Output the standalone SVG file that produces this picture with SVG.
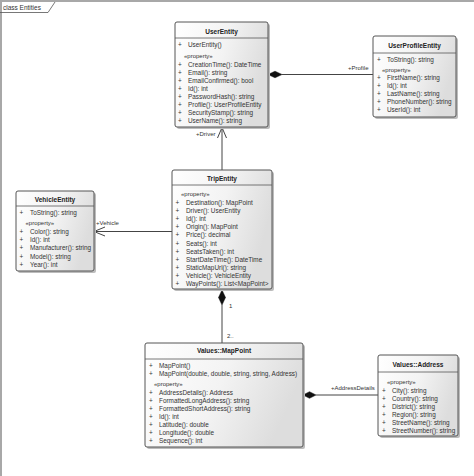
<svg xmlns="http://www.w3.org/2000/svg" width="474" height="476" viewBox="0 0 474 476">
<style>
.bg{fill:#ffffff}
.box{fill:url(#g);stroke:#555555;stroke-width:1}
.sh{fill:#bcbcbc}
.sep{stroke:#555555;stroke-width:0.8}
.t{font-family:"Liberation Sans",Arial,sans-serif;font-size:6.4px;fill:#333333}
.b{font-weight:bold;text-anchor:middle;font-size:6.5px;fill:#222222}
.st{font-size:6px}
.lb{font-family:"Liberation Sans",Arial,sans-serif;font-size:6px;fill:#333333}
.ln{stroke:#444444;stroke-width:1;fill:none}
.dm{fill:#111111;stroke:#111111;stroke-width:0.5}
</style>
<defs>
<linearGradient id="g" x1="0" y1="0" x2="1" y2="0.3">
<stop offset="0" stop-color="#ffffff"/>
<stop offset="0.55" stop-color="#f3f3f3"/>
<stop offset="1" stop-color="#dddddd"/>
</linearGradient>
</defs>
<rect class="bg" x="0" y="0" width="474" height="476"/>
<g id="frame">
<path d="M1,476 V1 H474" fill="none" stroke="#a8a8a8" stroke-width="2"/>
<path d="M0,12.5 H48 L55,2" fill="none" stroke="#555555" stroke-width="0.8"/>
<text class="t" x="3" y="9.5" style="font-size:6.5px">class Entities</text>
</g>
<g id="connectors">
<line class="ln" x1="282" y1="74.5" x2="373" y2="74.5"/>
<polygon class="dm" points="268,74.5 275,71.2 282,74.5 275,77.8"/>
<text class="lb" x="348" y="70">+Profile</text>
<line class="ln" x1="222" y1="170" x2="222" y2="127.5"/>
<polyline class="ln" points="217.5,138 222,127.5 226.5,138"/>
<text class="lb" x="196" y="135.5">+Driver</text>
<line class="ln" x1="172" y1="231.5" x2="94" y2="231.5"/>
<polyline class="ln" points="105,227 94,231.5 105,236"/>
<text class="lb" x="96" y="225">+Vehicle</text>
<polygon class="dm" points="222,290 225.5,297.5 222,305 218.5,297.5"/>
<line class="ln" x1="222" y1="305" x2="222" y2="343"/>
<text class="lb" x="229" y="308">1</text>
<text class="lb" x="227" y="338">2..</text>
<polygon class="dm" points="303,395 309.5,391.7 316,395 309.5,398.3"/>
<line class="ln" x1="316" y1="395" x2="378" y2="395"/>
<text class="lb" x="331" y="390">+AddressDetails</text>
</g>
<g id="UserEntity">
<rect class="sh" x="177" y="24" width="93" height="105" rx="2"/>
<rect class="box" x="175" y="22" width="93" height="105" rx="2"/>
<text class="t b" x="221.5" y="34.3">UserEntity</text>
<line class="sep" x1="175" y1="38" x2="268" y2="38"/>
<text class="t" x="178" y="47.2">+</text><text class="t" x="188" y="47.2">UserEntity()</text>
<text class="t st" x="184" y="58.2">«property»</text>
<text class="t" x="178" y="66.7">+</text><text class="t" x="188" y="66.7">CreationTime(): DateTime</text>
<text class="t" x="178" y="74.8">+</text><text class="t" x="188" y="74.8">Email(): string</text>
<text class="t" x="178" y="82.9">+</text><text class="t" x="188" y="82.9">EmailConfirmed(): bool</text>
<text class="t" x="178" y="91">+</text><text class="t" x="188" y="91">Id(): int</text>
<text class="t" x="178" y="99.1">+</text><text class="t" x="188" y="99.1">PasswordHash(): string</text>
<text class="t" x="178" y="107.2">+</text><text class="t" x="188" y="107.2">Profile(): UserProfileEntity</text>
<text class="t" x="178" y="115.3">+</text><text class="t" x="188" y="115.3">SecurityStamp(): string</text>
<text class="t" x="178" y="123.4">+</text><text class="t" x="188" y="123.4">UserName(): string</text>
</g>
<g id="UserProfileEntity">
<rect class="sh" x="375" y="38" width="83" height="81" rx="2"/>
<rect class="box" x="373" y="36" width="83" height="81" rx="2"/>
<text class="t b" x="414.5" y="48.3">UserProfileEntity</text>
<line class="sep" x1="373" y1="53" x2="456" y2="53"/>
<text class="t" x="377" y="61.7">+</text><text class="t" x="387" y="61.7">ToString(): string</text>
<text class="t st" x="382" y="71.5">«property»</text>
<text class="t" x="377" y="79.7">+</text><text class="t" x="387" y="79.7">FirstName(): string</text>
<text class="t" x="377" y="87.8">+</text><text class="t" x="387" y="87.8">Id(): int</text>
<text class="t" x="377" y="95.9">+</text><text class="t" x="387" y="95.9">LastName(): string</text>
<text class="t" x="377" y="104">+</text><text class="t" x="387" y="104">PhoneNumber(): string</text>
<text class="t" x="377" y="112.1">+</text><text class="t" x="387" y="112.1">UserId(): int</text>
</g>
<g id="VehicleEntity">
<rect class="sh" x="18" y="193" width="78" height="80" rx="2"/>
<rect class="box" x="16" y="191" width="78" height="80" rx="2"/>
<text class="t b" x="55" y="201.7">VehicleEntity</text>
<line class="sep" x1="16" y1="206" x2="94" y2="206"/>
<text class="t" x="19.5" y="215.2">+</text><text class="t" x="30" y="215.2">ToString(): string</text>
<text class="t st" x="25.5" y="225">«property»</text>
<text class="t" x="19.5" y="233.7">+</text><text class="t" x="30" y="233.7">Color(): string</text>
<text class="t" x="19.5" y="242">+</text><text class="t" x="30" y="242">Id(): int</text>
<text class="t" x="19.5" y="250.3">+</text><text class="t" x="30" y="250.3">Manufacturer(): string</text>
<text class="t" x="19.5" y="258.6">+</text><text class="t" x="30" y="258.6">Model(): string</text>
<text class="t" x="19.5" y="266.9">+</text><text class="t" x="30" y="266.9">Year(): int</text>
</g>
<g id="TripEntity">
<rect class="sh" x="174" y="172" width="100" height="119" rx="2"/>
<rect class="box" x="172" y="170" width="100" height="119" rx="2"/>
<text class="t b" x="222" y="180.7">TripEntity</text>
<line class="sep" x1="172" y1="185" x2="272" y2="185"/>
<text class="t st" x="181" y="195.5">«property»</text>
<text class="t" x="175.5" y="205">+</text><text class="t" x="186" y="205">Destination(): MapPoint</text>
<text class="t" x="175.5" y="213.1">+</text><text class="t" x="186" y="213.1">Driver(): UserEntity</text>
<text class="t" x="175.5" y="221.2">+</text><text class="t" x="186" y="221.2">Id(): int</text>
<text class="t" x="175.5" y="229.3">+</text><text class="t" x="186" y="229.3">Origin(): MapPoint</text>
<text class="t" x="175.5" y="237.4">+</text><text class="t" x="186" y="237.4">Price(): decimal</text>
<text class="t" x="175.5" y="245.5">+</text><text class="t" x="186" y="245.5">Seats(): int</text>
<text class="t" x="175.5" y="253.6">+</text><text class="t" x="186" y="253.6">SeatsTaken(): int</text>
<text class="t" x="175.5" y="261.7">+</text><text class="t" x="186" y="261.7">StartDateTime(): DateTime</text>
<text class="t" x="175.5" y="269.8">+</text><text class="t" x="186" y="269.8">StaticMapUrl(): string</text>
<text class="t" x="175.5" y="277.9">+</text><text class="t" x="186" y="277.9">Vehicle(): VehicleEntity</text>
<text class="t" x="175.5" y="286">+</text><text class="t" x="186" y="286">WayPoints(): List&lt;MapPoint&gt;</text>
</g>
<g id="MapPoint">
<rect class="sh" x="147" y="345" width="158" height="104" rx="2"/>
<rect class="box" x="145" y="343" width="158" height="104" rx="2"/>
<text class="t b" x="224" y="353.3">Values::MapPoint</text>
<line class="sep" x1="145" y1="359" x2="303" y2="359"/>
<text class="t" x="149" y="368.2">+</text><text class="t" x="159" y="368.2">MapPoint()</text>
<text class="t" x="149" y="376.2">+</text><text class="t" x="159" y="376.2">MapPoint(double, double, string, string, Address)</text>
<text class="t st" x="154" y="386">«property»</text>
<text class="t" x="149" y="395.2">+</text><text class="t" x="159" y="395.2">AddressDetails(): Address</text>
<text class="t" x="149" y="403.2">+</text><text class="t" x="159" y="403.2">FormattedLongAddress(): string</text>
<text class="t" x="149" y="411.2">+</text><text class="t" x="159" y="411.2">FormattedShortAddress(): string</text>
<text class="t" x="149" y="419.2">+</text><text class="t" x="159" y="419.2">Id(): int</text>
<text class="t" x="149" y="427.2">+</text><text class="t" x="159" y="427.2">Latitude(): double</text>
<text class="t" x="149" y="435.2">+</text><text class="t" x="159" y="435.2">Longitude(): double</text>
<text class="t" x="149" y="443.2">+</text><text class="t" x="159" y="443.2">Sequence(): int</text>
</g>
<g id="Address">
<rect class="sh" x="380" y="357" width="80" height="81" rx="2"/>
<rect class="box" x="378" y="355" width="80" height="81" rx="2"/>
<text class="t b" x="418" y="367.3">Values::Address</text>
<line class="sep" x1="378" y1="372" x2="458" y2="372"/>
<text class="t st" x="387" y="384">«property»</text>
<text class="t" x="382" y="392.7">+</text><text class="t" x="392" y="392.7">City(): string</text>
<text class="t" x="382" y="400.7">+</text><text class="t" x="392" y="400.7">Country(): string</text>
<text class="t" x="382" y="408.7">+</text><text class="t" x="392" y="408.7">District(): string</text>
<text class="t" x="382" y="416.7">+</text><text class="t" x="392" y="416.7">Region(): string</text>
<text class="t" x="382" y="424.7">+</text><text class="t" x="392" y="424.7">StreetName(): string</text>
<text class="t" x="382" y="432.7">+</text><text class="t" x="392" y="432.7">StreetNumber(): string</text>
</g>
</svg>
